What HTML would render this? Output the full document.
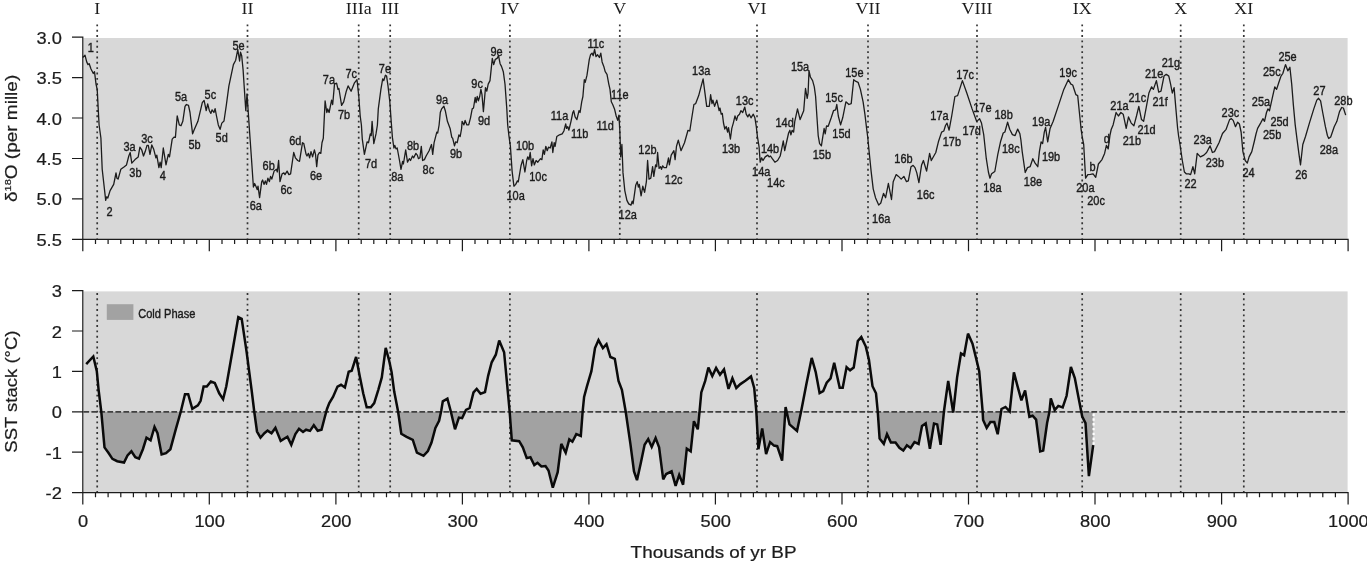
<!DOCTYPE html>
<html lang="en"><head><meta charset="utf-8"><title>Marine isotope stack and SST stack</title>
<style>html,body{margin:0;padding:0;background:#fff}body{width:1367px;height:564px;overflow:hidden}svg{display:block}.s{font-family:"Liberation Sans",sans-serif;fill:#1c1c1c}.r{font-family:"Liberation Serif",serif;fill:#1c1c1c}.b{stroke:#1c1c1c;stroke-width:.4px}.t{stroke:#1c1c1c;stroke-width:.22px}</style></head><body>
<svg width="1367" height="564" viewBox="0 0 1367 564">
<rect width="1367" height="564" fill="#fff"/>
<rect x="83.4" y="38" width="1264.2" height="201.3" fill="#d8d8d8"/>
<rect x="83.4" y="291.4" width="1264.2" height="201.2" fill="#d8d8d8"/>
<clipPath id="below"><rect x="83" y="411.8" width="1265" height="90"/></clipPath>
<path d="M86.2 411.8L86.2 364.1L93.3 356.5L96.8 371.2L98.6 389.8L101.3 412L104.5 447.4L108.4 452.7L112.4 458.9L117.2 461.2L124 462.5L127.5 455.4L131.4 451.3L135.3 457.2L139 458.6L142.9 449.2L146.5 437.7L150.6 440.3L154.5 427L157.5 433.2L161.6 454.5L166 453.1L170.4 449.2L175.7 429.7L180.7 412L185 394.2L188.2 394.2L192.3 408.8L197.9 405.3L200.6 400.8L203.6 386.6L206.8 386.6L210.9 381.5L214.8 383L219.2 393.3L223.1 399.2L226.3 386.2L232.5 350.8L238.3 317.1L241.7 318.9L246.7 352.6L251.6 390L254.3 412L257 431.5L260.5 437.7L264.4 433.2L267.6 430.6L271.5 433.2L275.4 427.9L280.7 440.9L287.4 436.8L291.3 444.8L295.4 434.1L299 428.8L303 432L306.1 429.7L310 430.9L313.8 425.3L317.7 430.8L321.5 429.7L324.5 418.2L327 409L329.3 403.1L333 396.9L337.5 386.6L341 384.8L344.9 387.5L348.7 371.7L351.7 370.8L356.1 357L359.6 375.6L363.2 393.3L366.7 407.2L370.8 407.2L374.2 403.1L378.3 389.8L381.8 377.4L385.7 347.8L388.9 359.6L391.6 372.1L394.2 391.6L398 411L401.3 433.8L406.6 436.8L412.8 439.8L416.9 452.7L423.5 455.8L427.9 451L431.5 442.5L435.4 427.9L439.1 420.8L441.2 411L442.8 401.3L447.4 398.7L450.7 411L455 429.3L458.9 417.6L462.1 418.2L466 409.9L469.6 408L473.5 392.4L476.7 388.9L480.6 393.7L485 392.1L488.2 375.6L491.7 362.3L495.8 354.7L499.2 340.5L504.1 352.2L506.8 380.9L509.6 411L511.8 440.3L519.2 441.2L522.8 447.4L526.7 458.1L530.4 457.2L534.3 465.1L537.5 462.8L541.4 466.4L545.5 466L548.5 470.5L552.8 487.7L557.7 472.2L561.3 443.9L565.7 452.7L569.3 439.4L572.4 441.7L576.3 434.1L580.8 435.9L582.7 411L584.1 396.9L587 386.2L591.4 371.2L595 348.1L598.5 340.1L602.9 348.1L606.5 344.2L610.4 357L614.8 358.8L618.5 380.9L621.9 389.8L625.6 411L630.4 443.9L634 471.4L637 480.2L640.7 463.4L644.6 444.8L648.2 439.1L651.7 446.9L655.6 438L659.1 447.4L663.2 479.3L666.2 474L671.6 471.4L675.6 485.9L679.2 474.9L683.1 484.7L686.8 448.7L690.7 451.3L693.9 421.2L697.8 429.3L699.6 411L701.3 392.4L705.2 380.9L708.4 367.6L712.3 376L716.1 368L720 374.7L724 369.4L728.5 388.9L732.4 378.3L736.3 388L740.4 384.1L745.7 380.6L751 376.5L754.2 388L756.3 411L758.4 449.2L762.2 428.4L766.1 454L770.1 442.1L774 445.6L777.2 446.2L782.1 460.7L785.6 407L789.5 424.4L797 430.9L801.2 411L806.3 384.5L811.7 357.9L815.7 372.1L819.6 393L823.2 391L826.7 382.7L830.6 378.3L834.2 362.7L839.7 387.7L842.7 387.7L846.6 367.1L850.1 370.3L853.7 367.6L857.8 341L861.3 337.1L865.7 346.3L868.9 359.6L872.5 386.2L876 393.3L877.7 411L879.6 438.6L883.8 443.9L887 434.1L890.9 442.5L895.5 442.6L899.4 447.8L903.3 450.6L906.9 445.3L910.6 448L914.5 442.1L918.6 443.9L922 426.1L925.7 423.5L929.9 448.7L934 423.5L937.2 424.4L940.6 444.8L944 411L948.2 380.9L953.2 412.5L957.1 377.4L961 353.4L964.1 355.2L968 333.6L972.5 343.7L976 357.9L979.2 371.2L982.6 411L983.1 419.9L986.7 427.9L990.4 422.1L994.3 422.1L997.7 434.2L1001.5 409L1005.5 407L1009.7 411.5L1013.9 372.3L1017.5 386.1L1021.4 400.3L1025.1 390.5L1029.4 416.8L1032.6 415.7L1036.1 419.6L1040.2 451.4L1043.2 450.5L1047.1 423L1049.4 412L1050.8 398.5L1054.7 410L1058.3 405.9L1062.7 407.4L1066.6 395.8L1070.9 367L1074.8 378.1L1078.7 398.5L1082.2 416.5L1085.5 423.2L1088.9 476.2L1093.2 445.2L1093.2 411.8 Z" fill="#a2a2a2" clip-path="url(#below)"/>
<rect x="106.8" y="304.2" width="26.6" height="15.7" fill="#a2a2a2"/>
<line x1="97.2" y1="24.4" x2="97.2" y2="239.3" stroke="#353535" stroke-width="1.7" stroke-dasharray="1.9 3.45"/>
<line x1="97.2" y1="293" x2="97.2" y2="492.6" stroke="#353535" stroke-width="1.7" stroke-dasharray="1.9 3.45"/>
<line x1="247.5" y1="24.4" x2="247.5" y2="239.3" stroke="#353535" stroke-width="1.7" stroke-dasharray="1.9 3.45"/>
<line x1="247.5" y1="293" x2="247.5" y2="492.6" stroke="#353535" stroke-width="1.7" stroke-dasharray="1.9 3.45"/>
<line x1="358.7" y1="24.4" x2="358.7" y2="239.3" stroke="#353535" stroke-width="1.7" stroke-dasharray="1.9 3.45"/>
<line x1="358.7" y1="293" x2="358.7" y2="492.6" stroke="#353535" stroke-width="1.7" stroke-dasharray="1.9 3.45"/>
<line x1="390.2" y1="24.4" x2="390.2" y2="239.3" stroke="#353535" stroke-width="1.7" stroke-dasharray="1.9 3.45"/>
<line x1="390.2" y1="293" x2="390.2" y2="492.6" stroke="#353535" stroke-width="1.7" stroke-dasharray="1.9 3.45"/>
<line x1="509.9" y1="24.4" x2="509.9" y2="239.3" stroke="#353535" stroke-width="1.7" stroke-dasharray="1.9 3.45"/>
<line x1="509.9" y1="293" x2="509.9" y2="492.6" stroke="#353535" stroke-width="1.7" stroke-dasharray="1.9 3.45"/>
<line x1="619.8" y1="24.4" x2="619.8" y2="239.3" stroke="#353535" stroke-width="1.7" stroke-dasharray="1.9 3.45"/>
<line x1="757" y1="24.4" x2="757" y2="239.3" stroke="#353535" stroke-width="1.7" stroke-dasharray="1.9 3.45"/>
<line x1="757" y1="293" x2="757" y2="492.6" stroke="#353535" stroke-width="1.7" stroke-dasharray="1.9 3.45"/>
<line x1="868" y1="24.4" x2="868" y2="239.3" stroke="#353535" stroke-width="1.7" stroke-dasharray="1.9 3.45"/>
<line x1="868" y1="293" x2="868" y2="492.6" stroke="#353535" stroke-width="1.7" stroke-dasharray="1.9 3.45"/>
<line x1="977" y1="24.4" x2="977" y2="239.3" stroke="#353535" stroke-width="1.7" stroke-dasharray="1.9 3.45"/>
<line x1="977" y1="293" x2="977" y2="492.6" stroke="#353535" stroke-width="1.7" stroke-dasharray="1.9 3.45"/>
<line x1="1082.2" y1="24.4" x2="1082.2" y2="239.3" stroke="#353535" stroke-width="1.7" stroke-dasharray="1.9 3.45"/>
<line x1="1082.2" y1="293" x2="1082.2" y2="492.6" stroke="#353535" stroke-width="1.7" stroke-dasharray="1.9 3.45"/>
<line x1="1180.7" y1="24.4" x2="1180.7" y2="239.3" stroke="#353535" stroke-width="1.7" stroke-dasharray="1.9 3.45"/>
<line x1="1180.7" y1="293" x2="1180.7" y2="492.6" stroke="#353535" stroke-width="1.7" stroke-dasharray="1.9 3.45"/>
<line x1="1243.8" y1="24.4" x2="1243.8" y2="239.3" stroke="#353535" stroke-width="1.7" stroke-dasharray="1.9 3.45"/>
<line x1="1243.8" y1="293" x2="1243.8" y2="492.6" stroke="#353535" stroke-width="1.7" stroke-dasharray="1.9 3.45"/>
<line x1="83.4" y1="411.8" x2="1347.6" y2="411.8" stroke="#404040" stroke-width="1.7" stroke-dasharray="5.7 2.3"/>
<line x1="1093.6" y1="413.5" x2="1093.6" y2="445" stroke="#fff" stroke-width="2.2" stroke-dasharray="2.4 2.4"/>
<path d="M82.8 36.6 V251.3M72 239.3 H1348.7M72 37.2 H82.8M72 77.6 H82.8M72 118 H82.8M72 158.5 H82.8M72 198.9 H82.8M95.5 239.3 V243.9M108.1 239.3 V243.9M120.8 239.3 V243.9M133.4 239.3 V243.9M146.1 239.3 V243.9M158.7 239.3 V243.9M171.4 239.3 V243.9M184 239.3 V243.9M196.7 239.3 V243.9M209.3 239.3 V251.3M222 239.3 V243.9M234.6 239.3 V243.9M247.3 239.3 V243.9M259.9 239.3 V243.9M272.6 239.3 V243.9M285.2 239.3 V243.9M297.9 239.3 V243.9M310.6 239.3 V243.9M323.2 239.3 V243.9M335.9 239.3 V251.3M348.5 239.3 V243.9M361.2 239.3 V243.9M373.8 239.3 V243.9M386.5 239.3 V243.9M399.1 239.3 V243.9M411.8 239.3 V243.9M424.4 239.3 V243.9M437.1 239.3 V243.9M449.7 239.3 V243.9M462.4 239.3 V251.3M475 239.3 V243.9M487.7 239.3 V243.9M500.3 239.3 V243.9M513 239.3 V243.9M525.7 239.3 V243.9M538.3 239.3 V243.9M551 239.3 V243.9M563.6 239.3 V243.9M576.3 239.3 V243.9M588.9 239.3 V251.3M601.6 239.3 V243.9M614.2 239.3 V243.9M626.9 239.3 V243.9M639.5 239.3 V243.9M652.2 239.3 V243.9M664.8 239.3 V243.9M677.5 239.3 V243.9M690.1 239.3 V243.9M702.8 239.3 V243.9M715.4 239.3 V251.3M728.1 239.3 V243.9M740.8 239.3 V243.9M753.4 239.3 V243.9M766.1 239.3 V243.9M778.7 239.3 V243.9M791.4 239.3 V243.9M804 239.3 V243.9M816.7 239.3 V243.9M829.3 239.3 V243.9M842 239.3 V251.3M854.6 239.3 V243.9M867.3 239.3 V243.9M879.9 239.3 V243.9M892.6 239.3 V243.9M905.2 239.3 V243.9M917.9 239.3 V243.9M930.6 239.3 V243.9M943.2 239.3 V243.9M955.9 239.3 V243.9M968.5 239.3 V251.3M981.2 239.3 V243.9M993.8 239.3 V243.9M1006.5 239.3 V243.9M1019.1 239.3 V243.9M1031.8 239.3 V243.9M1044.4 239.3 V243.9M1057.1 239.3 V243.9M1069.7 239.3 V243.9M1082.4 239.3 V243.9M1095 239.3 V251.3M1107.7 239.3 V243.9M1120.3 239.3 V243.9M1133 239.3 V243.9M1145.7 239.3 V243.9M1158.3 239.3 V243.9M1171 239.3 V243.9M1183.6 239.3 V243.9M1196.3 239.3 V243.9M1208.9 239.3 V243.9M1221.6 239.3 V251.3M1234.2 239.3 V243.9M1246.9 239.3 V243.9M1259.5 239.3 V243.9M1272.2 239.3 V243.9M1284.8 239.3 V243.9M1297.5 239.3 V243.9M1310.1 239.3 V243.9M1322.8 239.3 V243.9M1335.4 239.3 V243.9M1348.1 239.3 V251.3" fill="none" stroke="#1c1c1c" stroke-width="1.22"/>
<path d="M82.8 290 V504.6M72 492.6 H1348.7M72 290.6 H82.8M72 331 H82.8M72 371.4 H82.8M72 411.8 H82.8M72 452.2 H82.8M95.5 492.6 V497.2M108.1 492.6 V497.2M120.8 492.6 V497.2M133.4 492.6 V497.2M146.1 492.6 V497.2M158.7 492.6 V497.2M171.4 492.6 V497.2M184 492.6 V497.2M196.7 492.6 V497.2M209.3 492.6 V504.6M222 492.6 V497.2M234.6 492.6 V497.2M247.3 492.6 V497.2M259.9 492.6 V497.2M272.6 492.6 V497.2M285.2 492.6 V497.2M297.9 492.6 V497.2M310.6 492.6 V497.2M323.2 492.6 V497.2M335.9 492.6 V504.6M348.5 492.6 V497.2M361.2 492.6 V497.2M373.8 492.6 V497.2M386.5 492.6 V497.2M399.1 492.6 V497.2M411.8 492.6 V497.2M424.4 492.6 V497.2M437.1 492.6 V497.2M449.7 492.6 V497.2M462.4 492.6 V504.6M475 492.6 V497.2M487.7 492.6 V497.2M500.3 492.6 V497.2M513 492.6 V497.2M525.7 492.6 V497.2M538.3 492.6 V497.2M551 492.6 V497.2M563.6 492.6 V497.2M576.3 492.6 V497.2M588.9 492.6 V504.6M601.6 492.6 V497.2M614.2 492.6 V497.2M626.9 492.6 V497.2M639.5 492.6 V497.2M652.2 492.6 V497.2M664.8 492.6 V497.2M677.5 492.6 V497.2M690.1 492.6 V497.2M702.8 492.6 V497.2M715.4 492.6 V504.6M728.1 492.6 V497.2M740.8 492.6 V497.2M753.4 492.6 V497.2M766.1 492.6 V497.2M778.7 492.6 V497.2M791.4 492.6 V497.2M804 492.6 V497.2M816.7 492.6 V497.2M829.3 492.6 V497.2M842 492.6 V504.6M854.6 492.6 V497.2M867.3 492.6 V497.2M879.9 492.6 V497.2M892.6 492.6 V497.2M905.2 492.6 V497.2M917.9 492.6 V497.2M930.6 492.6 V497.2M943.2 492.6 V497.2M955.9 492.6 V497.2M968.5 492.6 V504.6M981.2 492.6 V497.2M993.8 492.6 V497.2M1006.5 492.6 V497.2M1019.1 492.6 V497.2M1031.8 492.6 V497.2M1044.4 492.6 V497.2M1057.1 492.6 V497.2M1069.7 492.6 V497.2M1082.4 492.6 V497.2M1095 492.6 V504.6M1107.7 492.6 V497.2M1120.3 492.6 V497.2M1133 492.6 V497.2M1145.7 492.6 V497.2M1158.3 492.6 V497.2M1171 492.6 V497.2M1183.6 492.6 V497.2M1196.3 492.6 V497.2M1208.9 492.6 V497.2M1221.6 492.6 V504.6M1234.2 492.6 V497.2M1246.9 492.6 V497.2M1259.5 492.6 V497.2M1272.2 492.6 V497.2M1284.8 492.6 V497.2M1297.5 492.6 V497.2M1310.1 492.6 V497.2M1322.8 492.6 V497.2M1335.4 492.6 V497.2M1348.1 492.6 V504.6" fill="none" stroke="#1c1c1c" stroke-width="1.22"/>
<path d="M82.7 57.5L85 55.2L86.7 61.9L88 64.6L89.2 63.7L91 69L93.3 73.5L94.5 71.7L96 84L97.2 89.4L98.6 116L99.1 125L100.9 138L102.2 169.3L105.7 200.4L106.6 196.8L107.8 198L110.1 190.6L113.7 184.4L114.6 180L116 172.9L116.9 178.2L118.1 179.1L120.8 169.3L124.3 166.7L126.5 164.9L128.8 156L130.2 152.5L131.8 163.1L135 159.6L138.2 156.9L139.9 147.2L141.7 149.8L143.5 156L145.2 151.6L147 145.4L148.3 145.4L150 154.3L151.8 144.9L153.6 148.9L155.9 157.8L156.8 155.1L158.9 167.6L160.1 162.2L161.2 167.6L163.3 148L166 164.9L168.3 154.3L169.5 156.9L172.2 139.2L174 137.1L175.4 137.4L177.2 116L179.3 124.9L181 125.8L182.8 121.3L185 106.3L186.4 104.5L188.5 105.4L190 112.5L192.6 133.8L194.4 129.3L197.9 121.3L202.3 102.7L204.1 100.4L206.2 110.7L207.7 104L209.4 110.7L210.9 113.4L212.1 109.8L213.9 112.5L215.1 108.6L216.5 116L218.3 124.9L220.1 129.3L221.8 123.1L224 121L226.3 105.4L228.9 85.9L233.4 64.6L235.7 60.2L237.8 49.5L239.6 61L240.5 52.2L241.7 55.7L243.1 69.9L245.8 110.7L247 93.9L248.4 114.2L249.6 132L251.6 160.5L253.4 187L254.6 183.5L255.9 186.2L257.3 189.7L258 186.2L259.6 197.7L261.7 181.7L262.6 180L264 184.4L265.3 180.9L266.5 184.4L267.9 178.2L269.4 181.7L270.6 176.4L271.8 179.1L274.1 171.1L276.5 169.3L277.3 172L278.6 160.5L280 181.7L282.1 173.8L283.9 172.9L285 174.6L287.1 171.1L288.9 174.6L290.6 173.8L293.7 152.5L295.4 157.8L297.7 160.5L299.5 161.3L302.5 142.7L303.8 143.6L306.1 154.3L307 156L308.4 153.4L309.6 157.8L311 151.6L312.6 156.9L314.4 149.8L315.5 154.3L316.7 166.7L317.9 155.1L319.4 152.5L320.8 153.4L322 142.7L323.3 138.3L325.1 100.9L326.8 112.5L327.7 108.9L329.1 112.5L331.6 100.1L332.7 104.5L334.5 84.1L336.6 83.2L338 89.4L338.9 88.5L341.6 105.4L343.7 101.8L346.3 91.2L348.1 85.9L351.1 91.2L354.3 83.2L357 79.7L358.8 96.5L360.2 116L361.4 125L362.3 139.2L364.4 154.3L367.1 141.8L368.5 142.7L370.3 133.9L371.2 135.6L372.1 121.3L373.8 143.6L376 133.9L377.4 125L378.3 108.9L380.9 89.4L382.7 78.8L383.8 80.6L385.4 75.2L386.6 76.1L388 85.9L389.8 101.8L391.2 121.3L392.4 137.4L393.9 148L394.8 145.4L396 148.9L397.2 148L399.5 160.5L401 169.3L402.6 161.3L403.4 164L405.7 149.8L407.5 162.2L409.3 158.7L410.5 160.5L412.5 156L413.7 157.8L415.9 153.4L417.3 155.1L418.5 158.7L419.9 157.8L421.3 146.3L422.6 160.5L424.4 159.6L426.1 156L429.1 150.7L431.5 144.5L432.7 154.3L434.1 142.7L436.8 132.1L437.7 133L439.1 125L440.3 112.5L441.6 108.9L443.9 106.3L445.3 110.7L447.4 121.3L450.1 128.4L451.8 137.4L452.7 138.3L454.5 145.9L455.7 141.8L457.2 142.7L458.9 134.8L460.2 136.5L461.6 128.5L462.1 121.3L463.9 124.9L465.1 120.4L466.9 124.9L468.7 124.9L470.5 117.8L472.2 108.9L473.5 108L475.2 97.4L476.1 102.7L477.2 96.5L478.4 100.9L479.7 96.5L480.9 89.4L482 94.7L483.4 111.6L485.5 87.6L486.8 91.2L488.2 84.1L490 80.6L492.3 58.4L493.7 64.6L495.3 59.3L497.1 58.4L498.5 55.7L500.1 63.7L501.5 66.4L503.3 71.7L505 84.1L506.8 108.9L507.7 125L508.9 135.6L510.4 146.3L512.1 171.1L513.9 186.2L515.7 184.4L517.4 180.9L518.3 181.7L521 165.8L522.8 159.6L524.9 172L526.7 160.5L527.7 156.9L529 159.6L530.2 152.5L531.6 165.8L533 158.7L534.3 164.9L536.1 160.5L537.8 162.2L540.5 158.7L541.9 159.6L543.2 149.8L544.4 154.3L545.8 146.3L547.2 150.7L548.5 147.2L550.2 148L551.9 141.8L552.8 152.5L554.2 142.7L555.1 146.3L556.8 136.5L559.5 134.8L562.2 133.9L563.9 131L565.7 124L566.6 128.4L567.8 126.7L568.9 130.2L571 121.3L572.8 112.5L573.7 110.7L575.1 116.9L576.9 119.6L579 110.7L580.1 112.5L581.7 101.8L582.9 96.5L584.3 79.7L585.2 82.3L587 75.2L589.3 59.3L590.5 54.8L592 53.1L593.2 55.7L594.6 49.5L596 56.6L597.6 54.8L599.4 57.5L600.8 53.1L602.1 61.9L603.8 66.4L605.2 71.7L607 74.3L608.8 84.1L610 89.4L611.3 101.8L612.7 104.5L614.5 108.9L616.2 116L617.7 120.4L618.9 115.1L619.8 130L620.7 156.9L621.9 144.5L623 172.9L624.8 190.6L626.9 200.4L628.7 203.9L631 205.1L632.2 201.2L633.1 203.9L635.7 185.3L637.2 181.7L638.4 187.1L639.3 184.4L641.1 195.9L642.8 186.2L644.6 192.4L646.4 181.7L647.6 160.5L649 179.1L650.8 178.2L652.6 166.7L653.8 176.4L655.6 164.9L656.7 166.7L657.6 152.5L659.1 168.4L660.6 166.7L661.5 169.3L662.7 165.8L664.1 167.6L666.4 167.6L668.5 157.8L669.4 164.9L671.2 155.1L673.9 150.7L675.1 159.6L676.5 146.3L678.3 140.1L681 150.7L684.5 142.7L688 130.3L689.8 131L691.6 119L693.9 104.5L695.7 103.6L698.7 95.6L703.1 78.8L706.7 106.3L709.3 106.3L710.6 94.7L712 103.6L712.9 100.1L714.6 106.3L716.8 100.1L719.1 110.7L720 108L721.2 114.2L722.3 113.4L723.5 123L724.8 129L726.2 126.5L727.6 132L728.5 127.6L730.4 139L731.8 128.4L733.3 123.1L735 116L736.5 120.4L737.7 116L739.5 114.2L740.9 110.7L742.7 112.5L744.8 107.1L746.2 114.2L747.8 116.9L749.2 114.2L751 117.8L753.3 114.2L754.9 117.8L756.3 126.7L757.4 136.5L759 146.3L760.2 162.2L761.6 157.8L763 160.5L765.2 156.9L767.8 155.1L769.1 156.9L770.5 156L772.3 158.7L774.9 162.2L777.6 160.5L780.2 156L781.5 149.8L783.3 141L784.7 150.7L786.8 141L788.6 133L789.9 130.3L790.9 134.8L792.2 130.3L793.6 132.1L794.8 121.3L797.5 108.9L800.1 119.6L803.7 110.7L805.5 88.5L807.2 98.3L808.1 93L809 70.8L810.4 77L812.6 80.6L814.3 86.8L815.6 96.5L817 117.8L818.2 135.6L819.6 143.6L821.4 145.9L822.7 137.4L824.1 128.5L825.2 133.8L826.5 126L828.2 126.3L831.2 117.8L833.5 110.7L835.6 109.8L836.8 104.5L838.3 116L840.6 124.9L842.7 117.8L845.9 101.8L848.9 104.5L851.2 103.6L853.7 79.7L856 81.4L858.1 82.3L860.4 89.4L863.1 101.8L864.9 114.2L866.6 128.4L867.7 137L869.3 153.4L871.1 171.1L873.2 188.8L875.5 197.7L878.7 205.1L880.8 203L883.5 193.3L885.6 197.7L888.4 183.5L891.5 199.5L893.2 181.7L896.2 174.6L898.5 176.4L901.2 179.1L903.9 176.4L906.5 181.7L908.3 180.9L911 166.7L913.1 165.4L915 167.6L916.8 172.9L918.9 182.6L921.6 164.9L923.4 160.5L926.6 171.1L929.6 153.4L931.3 160.5L935.8 152.5L938.4 141.8L941.6 132.1L943.8 131L945.5 125.5L947 123.1L949.1 130.2L951.7 116L954.9 96.5L957.6 95.6L962.4 80.6L966.8 93L972.1 108.9L976.6 121.3L977.8 120.4L979.6 118.7L981.5 123.1L983.7 134.5L986.3 158.7L988.4 172L989.9 178.2L991.6 173.8L994.8 171.5L997.8 154.3L1000.5 141.8L1003.2 133L1004.9 132L1007.6 122.2L1009.7 129.3L1012.4 134.6L1015.1 135.6L1017.7 129.1L1019.9 133.8L1020.9 140L1022.2 151.6L1025.2 172.5L1027.5 167.6L1030.1 166.7L1032.8 158.7L1035.1 163.1L1037.8 166.7L1039.4 151.6L1041.1 141.8L1042.6 143.6L1044.3 132.1L1045.6 127.5L1047.7 141.8L1050.1 128.4L1053.2 121.3L1058.5 105.4L1063.8 89.4L1068.3 79.7L1070.9 84.1L1072.7 85L1075.9 94.7L1077.7 95.6L1079.4 112.5L1081.2 130.2L1082.4 138L1083.7 144.5L1085.6 178.2L1087.8 174.6L1090.4 174.3L1093.1 173.8L1095.7 177.3L1098.4 164L1102 159.6L1104.6 153.4L1106.4 145.4L1108.2 148.9L1109.9 135.6L1111.2 129.5L1113.1 124.9L1116.1 112.5L1118.4 116L1120.9 112.5L1123.2 114.2L1126.2 128.4L1128.5 116.9L1131.2 123.1L1133.9 125.8L1136.5 116L1138.8 106.3L1141.5 119.6L1143.6 121.3L1146.3 107.1L1148.9 93L1151.6 86.8L1153.4 89.4L1156.4 80.6L1158.7 92.1L1161 91.2L1164 76.1L1166.3 74.3L1168.8 76.1L1170.6 84.1L1172.3 93L1174.1 87.6L1175.9 108.9L1177.6 128L1178.6 136L1180 144.5L1182.3 160.5L1184.4 172L1186.2 173.8L1188.8 173.8L1190.6 174.6L1192.9 166.7L1194.7 173.8L1197.2 153.4L1200.4 156.9L1203.9 155.1L1206.6 152.5L1210.1 145.9L1212.4 152.5L1214.5 151.6L1219 142.7L1222.5 133.5L1226.1 129.3L1229.6 119.6L1231.4 118.7L1233.2 120.4L1235.5 126.7L1237.6 122.2L1239.4 124L1241.1 132L1242.9 151.6L1245.2 160.5L1247.3 163.1L1249.1 156.9L1251.8 151.6L1254.4 141L1256 134L1257.6 128.4L1260.6 123.1L1262.9 118.7L1264.5 121.3L1266.5 112.5L1267.9 108.9L1269.5 110.7L1272.2 98.3L1274.8 86.8L1276.6 89.4L1278.9 82.3L1281 76.1L1282.8 73.5L1285.5 64.6L1287.8 70.8L1289.9 67.3L1291.7 84.1L1293.4 105.4L1295.2 124.9L1297 139.2L1299.1 155.1L1300.5 164.9L1302.8 144.5L1305.5 136.5L1309.4 123.1L1313.8 108.9L1316.8 100.1L1318.6 98.3L1320.6 100.9L1322.7 112.5L1325.4 126.7L1327.4 135.5L1328.7 138.5L1330.7 137L1332.6 131.5L1334.2 126.7L1336.9 121.3L1339.5 111.6L1341.7 107.5L1343.4 108L1345.7 115.1" fill="none" stroke="#1c1c1c" stroke-width="1.3" stroke-linejoin="round"/>
<path d="M86.2 364.1L93.3 356.5L96.8 371.2L98.6 389.8L101.3 412L104.5 447.4L108.4 452.7L112.4 458.9L117.2 461.2L124 462.5L127.5 455.4L131.4 451.3L135.3 457.2L139 458.6L142.9 449.2L146.5 437.7L150.6 440.3L154.5 427L157.5 433.2L161.6 454.5L166 453.1L170.4 449.2L175.7 429.7L180.7 412L185 394.2L188.2 394.2L192.3 408.8L197.9 405.3L200.6 400.8L203.6 386.6L206.8 386.6L210.9 381.5L214.8 383L219.2 393.3L223.1 399.2L226.3 386.2L232.5 350.8L238.3 317.1L241.7 318.9L246.7 352.6L251.6 390L254.3 412L257 431.5L260.5 437.7L264.4 433.2L267.6 430.6L271.5 433.2L275.4 427.9L280.7 440.9L287.4 436.8L291.3 444.8L295.4 434.1L299 428.8L303 432L306.1 429.7L310 430.9L313.8 425.3L317.7 430.8L321.5 429.7L324.5 418.2L327 409L329.3 403.1L333 396.9L337.5 386.6L341 384.8L344.9 387.5L348.7 371.7L351.7 370.8L356.1 357L359.6 375.6L363.2 393.3L366.7 407.2L370.8 407.2L374.2 403.1L378.3 389.8L381.8 377.4L385.7 347.8L388.9 359.6L391.6 372.1L394.2 391.6L398 411L401.3 433.8L406.6 436.8L412.8 439.8L416.9 452.7L423.5 455.8L427.9 451L431.5 442.5L435.4 427.9L439.1 420.8L441.2 411L442.8 401.3L447.4 398.7L450.7 411L455 429.3L458.9 417.6L462.1 418.2L466 409.9L469.6 408L473.5 392.4L476.7 388.9L480.6 393.7L485 392.1L488.2 375.6L491.7 362.3L495.8 354.7L499.2 340.5L504.1 352.2L506.8 380.9L509.6 411L511.8 440.3L519.2 441.2L522.8 447.4L526.7 458.1L530.4 457.2L534.3 465.1L537.5 462.8L541.4 466.4L545.5 466L548.5 470.5L552.8 487.7L557.7 472.2L561.3 443.9L565.7 452.7L569.3 439.4L572.4 441.7L576.3 434.1L580.8 435.9L582.7 411L584.1 396.9L587 386.2L591.4 371.2L595 348.1L598.5 340.1L602.9 348.1L606.5 344.2L610.4 357L614.8 358.8L618.5 380.9L621.9 389.8L625.6 411L630.4 443.9L634 471.4L637 480.2L640.7 463.4L644.6 444.8L648.2 439.1L651.7 446.9L655.6 438L659.1 447.4L663.2 479.3L666.2 474L671.6 471.4L675.6 485.9L679.2 474.9L683.1 484.7L686.8 448.7L690.7 451.3L693.9 421.2L697.8 429.3L699.6 411L701.3 392.4L705.2 380.9L708.4 367.6L712.3 376L716.1 368L720 374.7L724 369.4L728.5 388.9L732.4 378.3L736.3 388L740.4 384.1L745.7 380.6L751 376.5L754.2 388L756.3 411L758.4 449.2L762.2 428.4L766.1 454L770.1 442.1L774 445.6L777.2 446.2L782.1 460.7L785.6 407L789.5 424.4L797 430.9L801.2 411L806.3 384.5L811.7 357.9L815.7 372.1L819.6 393L823.2 391L826.7 382.7L830.6 378.3L834.2 362.7L839.7 387.7L842.7 387.7L846.6 367.1L850.1 370.3L853.7 367.6L857.8 341L861.3 337.1L865.7 346.3L868.9 359.6L872.5 386.2L876 393.3L877.7 411L879.6 438.6L883.8 443.9L887 434.1L890.9 442.5L895.5 442.6L899.4 447.8L903.3 450.6L906.9 445.3L910.6 448L914.5 442.1L918.6 443.9L922 426.1L925.7 423.5L929.9 448.7L934 423.5L937.2 424.4L940.6 444.8L944 411L948.2 380.9L953.2 412.5L957.1 377.4L961 353.4L964.1 355.2L968 333.6L972.5 343.7L976 357.9L979.2 371.2L982.6 411L983.1 419.9L986.7 427.9L990.4 422.1L994.3 422.1L997.7 434.2L1001.5 409L1005.5 407L1009.7 411.5L1013.9 372.3L1017.5 386.1L1021.4 400.3L1025.1 390.5L1029.4 416.8L1032.6 415.7L1036.1 419.6L1040.2 451.4L1043.2 450.5L1047.1 423L1049.4 412L1050.8 398.5L1054.7 410L1058.3 405.9L1062.7 407.4L1066.6 395.8L1070.9 367L1074.8 378.1L1078.7 398.5L1082.2 416.5L1085.5 423.2L1088.9 476.2L1093.2 445.2" fill="none" stroke="#0a0a0a" stroke-width="2.5" stroke-linejoin="miter" stroke-miterlimit="3"/>
<text class="s t" transform="translate(61.8 43.7) scale(1.12 1)" font-size="16.3" text-anchor="end">3.0</text>
<text class="s t" transform="translate(61.8 84.1) scale(1.12 1)" font-size="16.3" text-anchor="end">3.5</text>
<text class="s t" transform="translate(61.8 124.5) scale(1.12 1)" font-size="16.3" text-anchor="end">4.0</text>
<text class="s t" transform="translate(61.8 165) scale(1.12 1)" font-size="16.3" text-anchor="end">4.5</text>
<text class="s t" transform="translate(61.8 205.4) scale(1.12 1)" font-size="16.3" text-anchor="end">5.0</text>
<text class="s t" transform="translate(61.8 245.8) scale(1.12 1)" font-size="16.3" text-anchor="end">5.5</text>
<text class="s t" transform="translate(61.8 297.1) scale(1.12 1)" font-size="16.3" text-anchor="end">3</text>
<text class="s t" transform="translate(61.8 337.5) scale(1.12 1)" font-size="16.3" text-anchor="end">2</text>
<text class="s t" transform="translate(61.8 377.9) scale(1.12 1)" font-size="16.3" text-anchor="end">1</text>
<text class="s t" transform="translate(61.8 418.3) scale(1.12 1)" font-size="16.3" text-anchor="end">0</text>
<text class="s t" transform="translate(61.8 458.7) scale(1.12 1)" font-size="16.3" text-anchor="end">-1</text>
<text class="s t" transform="translate(61.8 499.1) scale(1.12 1)" font-size="16.3" text-anchor="end">-2</text>
<text class="s t" transform="translate(83.1 527.2) scale(1.12 1)" font-size="16.3" text-anchor="middle">0</text>
<text class="s t" transform="translate(209.6 527.2) scale(1.12 1)" font-size="16.3" text-anchor="middle">100</text>
<text class="s t" transform="translate(336.2 527.2) scale(1.12 1)" font-size="16.3" text-anchor="middle">200</text>
<text class="s t" transform="translate(462.7 527.2) scale(1.12 1)" font-size="16.3" text-anchor="middle">300</text>
<text class="s t" transform="translate(589.2 527.2) scale(1.12 1)" font-size="16.3" text-anchor="middle">400</text>
<text class="s t" transform="translate(715.7 527.2) scale(1.12 1)" font-size="16.3" text-anchor="middle">500</text>
<text class="s t" transform="translate(842.3 527.2) scale(1.12 1)" font-size="16.3" text-anchor="middle">600</text>
<text class="s t" transform="translate(968.8 527.2) scale(1.12 1)" font-size="16.3" text-anchor="middle">700</text>
<text class="s t" transform="translate(1095.3 527.2) scale(1.12 1)" font-size="16.3" text-anchor="middle">800</text>
<text class="s t" transform="translate(1221.9 527.2) scale(1.12 1)" font-size="16.3" text-anchor="middle">900</text>
<text class="s t" transform="translate(1348.4 527.2) scale(1.12 1)" font-size="16.3" text-anchor="middle">1000</text>
<text class="s t" transform="translate(713.6 557.6) scale(1.153 1)" font-size="16.4" text-anchor="middle">Thousands of yr BP</text>
<text class="s t" transform="translate(17.3 138.4) rotate(-90) scale(1.158 1)" font-size="16.4" text-anchor="middle">δ<tspan font-size="9.5" dy="-6.5">18</tspan><tspan dy="6.5">O (per mille)</tspan></text>
<text class="s t" transform="translate(17.4 391.6) rotate(-90) scale(1.128 1)" font-size="16.4" text-anchor="middle">SST stack (°C)</text>
<text class="r" transform="translate(97.2 13.5) scale(1.08 1)" font-size="16.6" text-anchor="middle">I</text>
<text class="r" transform="translate(247.5 13.5) scale(1.08 1)" font-size="16.6" text-anchor="middle">II</text>
<text class="r" transform="translate(358.7 13.5) scale(1.08 1)" font-size="16.6" text-anchor="middle">IIIa</text>
<text class="r" transform="translate(390.2 13.5) scale(1.08 1)" font-size="16.6" text-anchor="middle">III</text>
<text class="r" transform="translate(509.9 13.5) scale(1.08 1)" font-size="16.6" text-anchor="middle">IV</text>
<text class="r" transform="translate(619.8 13.5) scale(1.08 1)" font-size="16.6" text-anchor="middle">V</text>
<text class="r" transform="translate(757 13.5) scale(1.08 1)" font-size="16.6" text-anchor="middle">VI</text>
<text class="r" transform="translate(868 13.5) scale(1.08 1)" font-size="16.6" text-anchor="middle">VII</text>
<text class="r" transform="translate(977 13.5) scale(1.08 1)" font-size="16.6" text-anchor="middle">VIII</text>
<text class="r" transform="translate(1082.2 13.5) scale(1.08 1)" font-size="16.6" text-anchor="middle">IX</text>
<text class="r" transform="translate(1180.7 13.5) scale(1.08 1)" font-size="16.6" text-anchor="middle">X</text>
<text class="r" transform="translate(1243.8 13.5) scale(1.08 1)" font-size="16.6" text-anchor="middle">XI</text>
<text class="s b" transform="translate(87.8 51.8) scale(0.87 1)" font-size="12.6">1</text>
<text class="s b" transform="translate(106.6 216.3) scale(0.87 1)" font-size="12.6">2</text>
<text class="s b" transform="translate(123.4 150.7) scale(0.87 1)" font-size="12.6">3a</text>
<text class="s b" transform="translate(129.3 176.8) scale(0.87 1)" font-size="12.6">3b</text>
<text class="s b" transform="translate(141.2 142.7) scale(0.87 1)" font-size="12.6">3c</text>
<text class="s b" transform="translate(159.8 180.3) scale(0.87 1)" font-size="12.6">4</text>
<text class="s b" transform="translate(174.9 101) scale(0.87 1)" font-size="12.6">5a</text>
<text class="s b" transform="translate(188.5 149) scale(0.87 1)" font-size="12.6">5b</text>
<text class="s b" transform="translate(204.6 99.2) scale(0.87 1)" font-size="12.6">5c</text>
<text class="s b" transform="translate(215.6 141.8) scale(0.87 1)" font-size="12.6">5d</text>
<text class="s b" transform="translate(232.5 50.4) scale(0.87 1)" font-size="12.6">5e</text>
<text class="s b" transform="translate(249.7 210.1) scale(0.87 1)" font-size="12.6">6a</text>
<text class="s b" transform="translate(262.6 170.2) scale(0.87 1)" font-size="12.6">6b</text>
<text class="s b" transform="translate(280.4 193.8) scale(0.87 1)" font-size="12.6">6c</text>
<text class="s b" transform="translate(289.2 145.4) scale(0.87 1)" font-size="12.6">6d</text>
<text class="s b" transform="translate(310 180.3) scale(0.87 1)" font-size="12.6">6e</text>
<text class="s b" transform="translate(322.8 83.7) scale(0.87 1)" font-size="12.6">7a</text>
<text class="s b" transform="translate(338 119.2) scale(0.87 1)" font-size="12.6">7b</text>
<text class="s b" transform="translate(345.5 78.4) scale(0.87 1)" font-size="12.6">7c</text>
<text class="s b" transform="translate(378.8 72.6) scale(0.87 1)" font-size="12.6">7e</text>
<text class="s b" transform="translate(435.9 103.6) scale(0.87 1)" font-size="12.6">9a</text>
<text class="s b" transform="translate(471.3 87.6) scale(0.87 1)" font-size="12.6">9c</text>
<text class="s b" transform="translate(478 124.5) scale(0.87 1)" font-size="12.6">9d</text>
<text class="s b" transform="translate(490.5 56.3) scale(0.87 1)" font-size="12.6">9e</text>
<text class="s b" transform="translate(365 167.6) scale(0.87 1)" font-size="12.6">7d</text>
<text class="s b" transform="translate(391.2 181.4) scale(0.87 1)" font-size="12.6">8a</text>
<text class="s b" transform="translate(407 150.4) scale(0.87 1)" font-size="12.6">8b</text>
<text class="s b" transform="translate(422.6 173.8) scale(0.87 1)" font-size="12.6">8c</text>
<text class="s b" transform="translate(450 158.3) scale(0.87 1)" font-size="12.6">9b</text>
<text class="s b" transform="translate(506.5 199.8) scale(0.87 1)" font-size="12.6">10a</text>
<text class="s b" transform="translate(515.9 149.8) scale(0.87 1)" font-size="12.6">10b</text>
<text class="s b" transform="translate(529.2 180.9) scale(0.87 1)" font-size="12.6">10c</text>
<text class="s b" transform="translate(550.8 119.9) scale(0.87 1)" font-size="12.6">11a</text>
<text class="s b" transform="translate(570.9 137.8) scale(0.87 1)" font-size="12.6">11b</text>
<text class="s b" transform="translate(587.5 48.3) scale(0.87 1)" font-size="12.6">11c</text>
<text class="s b" transform="translate(596.4 130) scale(0.87 1)" font-size="12.6">11d</text>
<text class="s b" transform="translate(611.1 99.2) scale(0.87 1)" font-size="12.6">11e</text>
<text class="s b" transform="translate(692.1 74.9) scale(0.87 1)" font-size="12.6">13a</text>
<text class="s b" transform="translate(735.8 105) scale(0.87 1)" font-size="12.6">13c</text>
<text class="s b" transform="translate(618.6 219) scale(0.87 1)" font-size="12.6">12a</text>
<text class="s b" transform="translate(638.3 154.3) scale(0.87 1)" font-size="12.6">12b</text>
<text class="s b" transform="translate(664.8 183.5) scale(0.87 1)" font-size="12.6">12c</text>
<text class="s b" transform="translate(721.9 152.8) scale(0.87 1)" font-size="12.6">13b</text>
<text class="s b" transform="translate(752.1 176) scale(0.87 1)" font-size="12.6">14a</text>
<text class="s b" transform="translate(760.9 152.5) scale(0.87 1)" font-size="12.6">14b</text>
<text class="s b" transform="translate(767.1 187.4) scale(0.87 1)" font-size="12.6">14c</text>
<text class="s b" transform="translate(775.5 127.2) scale(0.87 1)" font-size="12.6">14d</text>
<text class="s b" transform="translate(790.9 71.3) scale(0.87 1)" font-size="12.6">15a</text>
<text class="s b" transform="translate(825.2 102.2) scale(0.87 1)" font-size="12.6">15c</text>
<text class="s b" transform="translate(832.3 137.8) scale(0.87 1)" font-size="12.6">15d</text>
<text class="s b" transform="translate(845.2 76.7) scale(0.87 1)" font-size="12.6">15e</text>
<text class="s b" transform="translate(930.3 119.9) scale(0.87 1)" font-size="12.6">17a</text>
<text class="s b" transform="translate(956.3 78.8) scale(0.87 1)" font-size="12.6">17c</text>
<text class="s b" transform="translate(962.6 134.8) scale(0.87 1)" font-size="12.6">17d</text>
<text class="s b" transform="translate(973.2 112.1) scale(0.87 1)" font-size="12.6">17e</text>
<text class="s b" transform="translate(994.5 119.2) scale(0.87 1)" font-size="12.6">18b</text>
<text class="s b" transform="translate(812.7 158.7) scale(0.87 1)" font-size="12.6">15b</text>
<text class="s b" transform="translate(872.1 223.4) scale(0.87 1)" font-size="12.6">16a</text>
<text class="s b" transform="translate(894.3 162.8) scale(0.87 1)" font-size="12.6">16b</text>
<text class="s b" transform="translate(916.8 199.1) scale(0.87 1)" font-size="12.6">16c</text>
<text class="s b" transform="translate(942.7 145.9) scale(0.87 1)" font-size="12.6">17b</text>
<text class="s b" transform="translate(983.3 191.5) scale(0.87 1)" font-size="12.6">18a</text>
<text class="s b" transform="translate(1032.1 125.8) scale(0.87 1)" font-size="12.6">19a</text>
<text class="s b" transform="translate(1059.3 76.7) scale(0.87 1)" font-size="12.6">19c</text>
<text class="s b" transform="translate(1110.3 110.3) scale(0.87 1)" font-size="12.6">21a</text>
<text class="s b" transform="translate(1128.5 101.5) scale(0.87 1)" font-size="12.6">21c</text>
<text class="s b" transform="translate(1137.4 133.8) scale(0.87 1)" font-size="12.6">21d</text>
<text class="s b" transform="translate(1145 78.4) scale(0.87 1)" font-size="12.6">21e</text>
<text class="s b" transform="translate(1152.5 106.3) scale(0.87 1)" font-size="12.6">21f</text>
<text class="s b" transform="translate(1161.7 67.3) scale(0.87 1)" font-size="12.6">21g</text>
<text class="s b" transform="translate(1221.6 116.9) scale(0.87 1)" font-size="12.6">23c</text>
<text class="s b" transform="translate(1002 153.4) scale(0.87 1)" font-size="12.6">18c</text>
<text class="s b" transform="translate(1023.8 186.2) scale(0.87 1)" font-size="12.6">18e</text>
<text class="s b" transform="translate(1041.9 160.5) scale(0.87 1)" font-size="12.6">19b</text>
<text class="s b" transform="translate(1076.2 192) scale(0.87 1)" font-size="12.6">20a</text>
<text class="s b" transform="translate(1087.2 204.8) scale(0.87 1)" font-size="12.6">20c</text>
<text class="s b" transform="translate(1089.5 171.1) scale(0.87 1)" font-size="12.6">b</text>
<text class="s b" transform="translate(1103.7 143.3) scale(0.87 1)" font-size="12.6">d</text>
<text class="s b" transform="translate(1122.7 144.5) scale(0.87 1)" font-size="12.6">21b</text>
<text class="s b" transform="translate(1184.4 188.1) scale(0.87 1)" font-size="12.6">22</text>
<text class="s b" transform="translate(1193.6 143.6) scale(0.87 1)" font-size="12.6">23a</text>
<text class="s b" transform="translate(1205.7 166.7) scale(0.87 1)" font-size="12.6">23b</text>
<text class="s b" transform="translate(1251.8 106.3) scale(0.87 1)" font-size="12.6">25a</text>
<text class="s b" transform="translate(1263 76.1) scale(0.87 1)" font-size="12.6">25c</text>
<text class="s b" transform="translate(1270.4 126.1) scale(0.87 1)" font-size="12.6">25d</text>
<text class="s b" transform="translate(1278.4 60.7) scale(0.87 1)" font-size="12.6">25e</text>
<text class="s b" transform="translate(1313.3 95.3) scale(0.87 1)" font-size="12.6">27</text>
<text class="s b" transform="translate(1334.2 104.5) scale(0.87 1)" font-size="12.6">28b</text>
<text class="s b" transform="translate(1242.4 177) scale(0.87 1)" font-size="12.6">24</text>
<text class="s b" transform="translate(1263 139.2) scale(0.87 1)" font-size="12.6">25b</text>
<text class="s b" transform="translate(1295.2 179.1) scale(0.87 1)" font-size="12.6">26</text>
<text class="s b" transform="translate(1319.7 153.7) scale(0.87 1)" font-size="12.6">28a</text>
<text class="s b" transform="translate(138.2 318) scale(0.84 1)" font-size="13.2">Cold Phase</text>
</svg></body></html>
